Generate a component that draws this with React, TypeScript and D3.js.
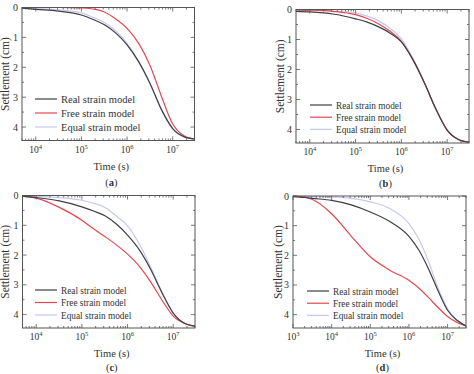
import React from "react";
import * as d3 from "d3";

// time grid (s) shared by panels a-c, and the one used in panel d
const timeABC = [5e3, 1e4, 3.2e4, 1e5, 1.8e5, 3.2e5, 5.6e5, 1e6, 1.8e6, 3.2e6, 5.6e6, 1e7, 1.8e7, 3e7];
const timeD = [1e3, 2e3, 3.2e3, 1e4, 3.2e4, 1e5, 3.2e5, 1e6, 1.8e6, 3.2e6, 5.6e6, 1e7, 1.8e7, 3e7];

// settlement (cm)
const realA = [0.02, 0.06, 0.12, 0.25, 0.4, 0.58, 0.85, 1.25, 1.82, 2.55, 3.4, 4.05, 4.33, 4.4];
const freeA = [0, 0, 0, 0.01, 0.05, 0.15, 0.38, 0.7, 1.2, 1.95, 2.95, 3.9, 4.3, 4.4];
const equalA = [0.01, 0.03, 0.08, 0.18, 0.33, 0.5, 0.78, 1.2, 1.8, 2.55, 3.4, 4.05, 4.33, 4.4];

const realB = [0.06, 0.08, 0.15, 0.31, 0.42, 0.58, 0.78, 1.08, 1.68, 2.45, 3.3, 4.02, 4.34, 4.42];
const freeB = [0.01, 0.02, 0.06, 0.17, 0.3, 0.48, 0.72, 1.06, 1.68, 2.45, 3.3, 4.02, 4.34, 4.42];
const equalB = [0.01, 0.02, 0.05, 0.12, 0.22, 0.38, 0.62, 0.98, 1.64, 2.45, 3.3, 4.02, 4.34, 4.42];

const realC = [0.02, 0.07, 0.18, 0.38, 0.52, 0.68, 0.95, 1.33, 1.82, 2.48, 3.25, 3.95, 4.3, 4.39];
const freeC = [0.02, 0.09, 0.4, 0.83, 1.12, 1.38, 1.65, 1.97, 2.37, 2.9, 3.5, 4.05, 4.3, 4.39];
const equalC = [0.01, 0.03, 0.07, 0.16, 0.26, 0.4, 0.68, 1.02, 1.62, 2.4, 3.22, 3.95, 4.3, 4.39];

const realD = [0.02, 0.05, 0.08, 0.15, 0.3, 0.54, 0.86, 1.36, 1.82, 2.45, 3.18, 3.85, 4.2, 4.38];
const freeD = [0, 0.04, 0.12, 0.6, 1.35, 2.05, 2.5, 2.84, 3.1, 3.42, 3.75, 4.06, 4.27, 4.38];
const equalD = [0, 0.01, 0.02, 0.03, 0.08, 0.2, 0.42, 0.93, 1.45, 2.2, 3.08, 3.8, 4.2, 4.38];

const seriesNames = ["Real strain model", "Free strain model", "Equal strain model"];
const colors = ["#3e3e44", "#e4474f", "#c6c9ef"];
const yTicks = [0, 1, 2, 3, 4];

const FONT = "'Liberation Serif', 'Times New Roman', serif";

type PanelProps = {
  label: string;
  time: number[];
  series: number[][];
  xMin: number;
  left: number;
  top: number;
  width: number;
  height: number;
  legend: { x: number; y: number; dy: number; size: number };
  ylabX: number;
  capY: number;
};

const Panel = ({ label, time, series, xMin, left, top, width, height, legend, ylabX, capY }: PanelProps) => {
  const x = d3.scaleLog().domain([xMin, 3e7]).range([left, left + width]);
  const y = d3.scaleLinear().domain([0, 4.45]).range([top, top + height]);
  const bottom = top + height;
  const right = left + width;

  const line = d3
    .line<[number, number]>()
    .x((d) => x(d[0]))
    .y((d) => y(d[1]))
    .curve(d3.curveMonotoneX);

  const majors = x.ticks().filter((t) => Math.abs(Math.log10(t) - Math.round(Math.log10(t))) < 1e-9);
  const minors = x.ticks().filter((t) => !majors.includes(t));
  const yMinor = d3.range(0.5, 4.45, 1);

  return (
    <g fontFamily={FONT} fill="#333">
      {/* curves: equal drawn first so darker ones sit on top */}
      <g fill="none" strokeWidth={1.2}>
        {[2, 1, 0].map((i) => (
          <path
            key={i}
            d={line(time.map((t, k) => [t, series[i][k]] as [number, number])) || ""}
            stroke={colors[i]}
          />
        ))}
      </g>
      <rect x={left} y={top} width={width} height={height} fill="none" stroke="#555" strokeWidth={1} />
      {/* x ticks, top and bottom, pointing inward */}
      <g stroke="#555" strokeWidth={0.8}>
        {majors.map((t) => (
          <g key={"M" + t}>
            <line x1={x(t)} x2={x(t)} y1={bottom} y2={bottom - 4} />
            <line x1={x(t)} x2={x(t)} y1={top} y2={top + 4} />
          </g>
        ))}
        {minors.map((t) => (
          <g key={"m" + t}>
            <line x1={x(t)} x2={x(t)} y1={bottom} y2={bottom - 2} />
            <line x1={x(t)} x2={x(t)} y1={top} y2={top + 2} />
          </g>
        ))}
        {yTicks.map((t) => (
          <g key={"y" + t}>
            <line x1={left} x2={left + 4} y1={y(t)} y2={y(t)} />
            <line x1={right} x2={right - 4} y1={y(t)} y2={y(t)} />
          </g>
        ))}
        {yMinor.map((t) => (
          <g key={"ym" + t}>
            <line x1={left} x2={left + 2} y1={y(t)} y2={y(t)} />
            <line x1={right} x2={right - 2} y1={y(t)} y2={y(t)} />
          </g>
        ))}
      </g>
      {/* tick labels */}
      {majors.map((t) => (
        <text key={"l" + t} x={x(t)} y={bottom + 12} fontSize={9.5} textAnchor="middle">
          10<tspan fontSize={6.5} dy={-4}>{Math.round(Math.log10(t))}</tspan>
        </text>
      ))}
      {yTicks.map((t) => (
        <text key={"yl" + t} x={left - 4} y={y(t) + 3.5} fontSize={10} textAnchor="end">
          {t}
        </text>
      ))}
      {/* axis titles */}
      <text x={(left + right) / 2 + 3} y={bottom + 29} fontSize={10.5} textAnchor="middle">
        Time (s)
      </text>
      <text
        transform={`translate(${ylabX},${(top + bottom) / 2}) rotate(-90)`}
        fontSize={11.5}
        textAnchor="middle"
      >
        Settlement (cm)
      </text>
      <text x={(left + right) / 2 + 3} y={capY} fontSize={10.5} textAnchor="middle">
        (<tspan fontWeight="bold">{label}</tspan>)
      </text>
      {/* legend */}
      {seriesNames.map((name, i) => (
        <g key={name}>
          <line
            x1={legend.x}
            x2={legend.x + 22}
            y1={legend.y + i * legend.dy}
            y2={legend.y + i * legend.dy}
            stroke={colors[i]}
            strokeWidth={1.2}
          />
          <text x={legend.x + 26} y={legend.y + i * legend.dy + 3.5} fontSize={legend.size}>
            {name}
          </text>
        </g>
      ))}
    </g>
  );
};

export default function App() {
  return (
    <svg width={474} height={374} style={{ position: "absolute", left: 0, top: 0, background: "#fff" }}>
      <Panel
        label="a"
        time={timeABC}
        series={[realA, freeA, equalA]}
        xMin={5e3}
        left={22}
        top={7.5}
        width={172.5}
        height={133}
        legend={{ x: 35, y: 99, dy: 14, size: 10.5 }}
        ylabX={9}
        capY={185.5}
      />
      <Panel
        label="b"
        time={timeABC}
        series={[realB, freeB, equalB]}
        xMin={5e3}
        left={296}
        top={9.5}
        width={173}
        height={133.5}
        legend={{ x: 310, y: 105, dy: 12.2, size: 9.3 }}
        ylabX={284}
        capY={186.5}
      />
      <Panel
        label="c"
        time={timeABC}
        series={[realC, freeC, equalC]}
        xMin={5e3}
        left={22.5}
        top={195.5}
        width={172.5}
        height={132.5}
        legend={{ x: 35, y: 290, dy: 12.5, size: 9.3 }}
        ylabX={9}
        capY={371}
      />
      <Panel
        label="d"
        time={timeD}
        series={[realD, freeD, equalD]}
        xMin={1e3}
        left={293}
        top={196}
        width={173}
        height={132}
        legend={{ x: 307, y: 291, dy: 12.2, size: 9.3 }}
        ylabX={282}
        capY={371}
      />
    </svg>
  );
}
